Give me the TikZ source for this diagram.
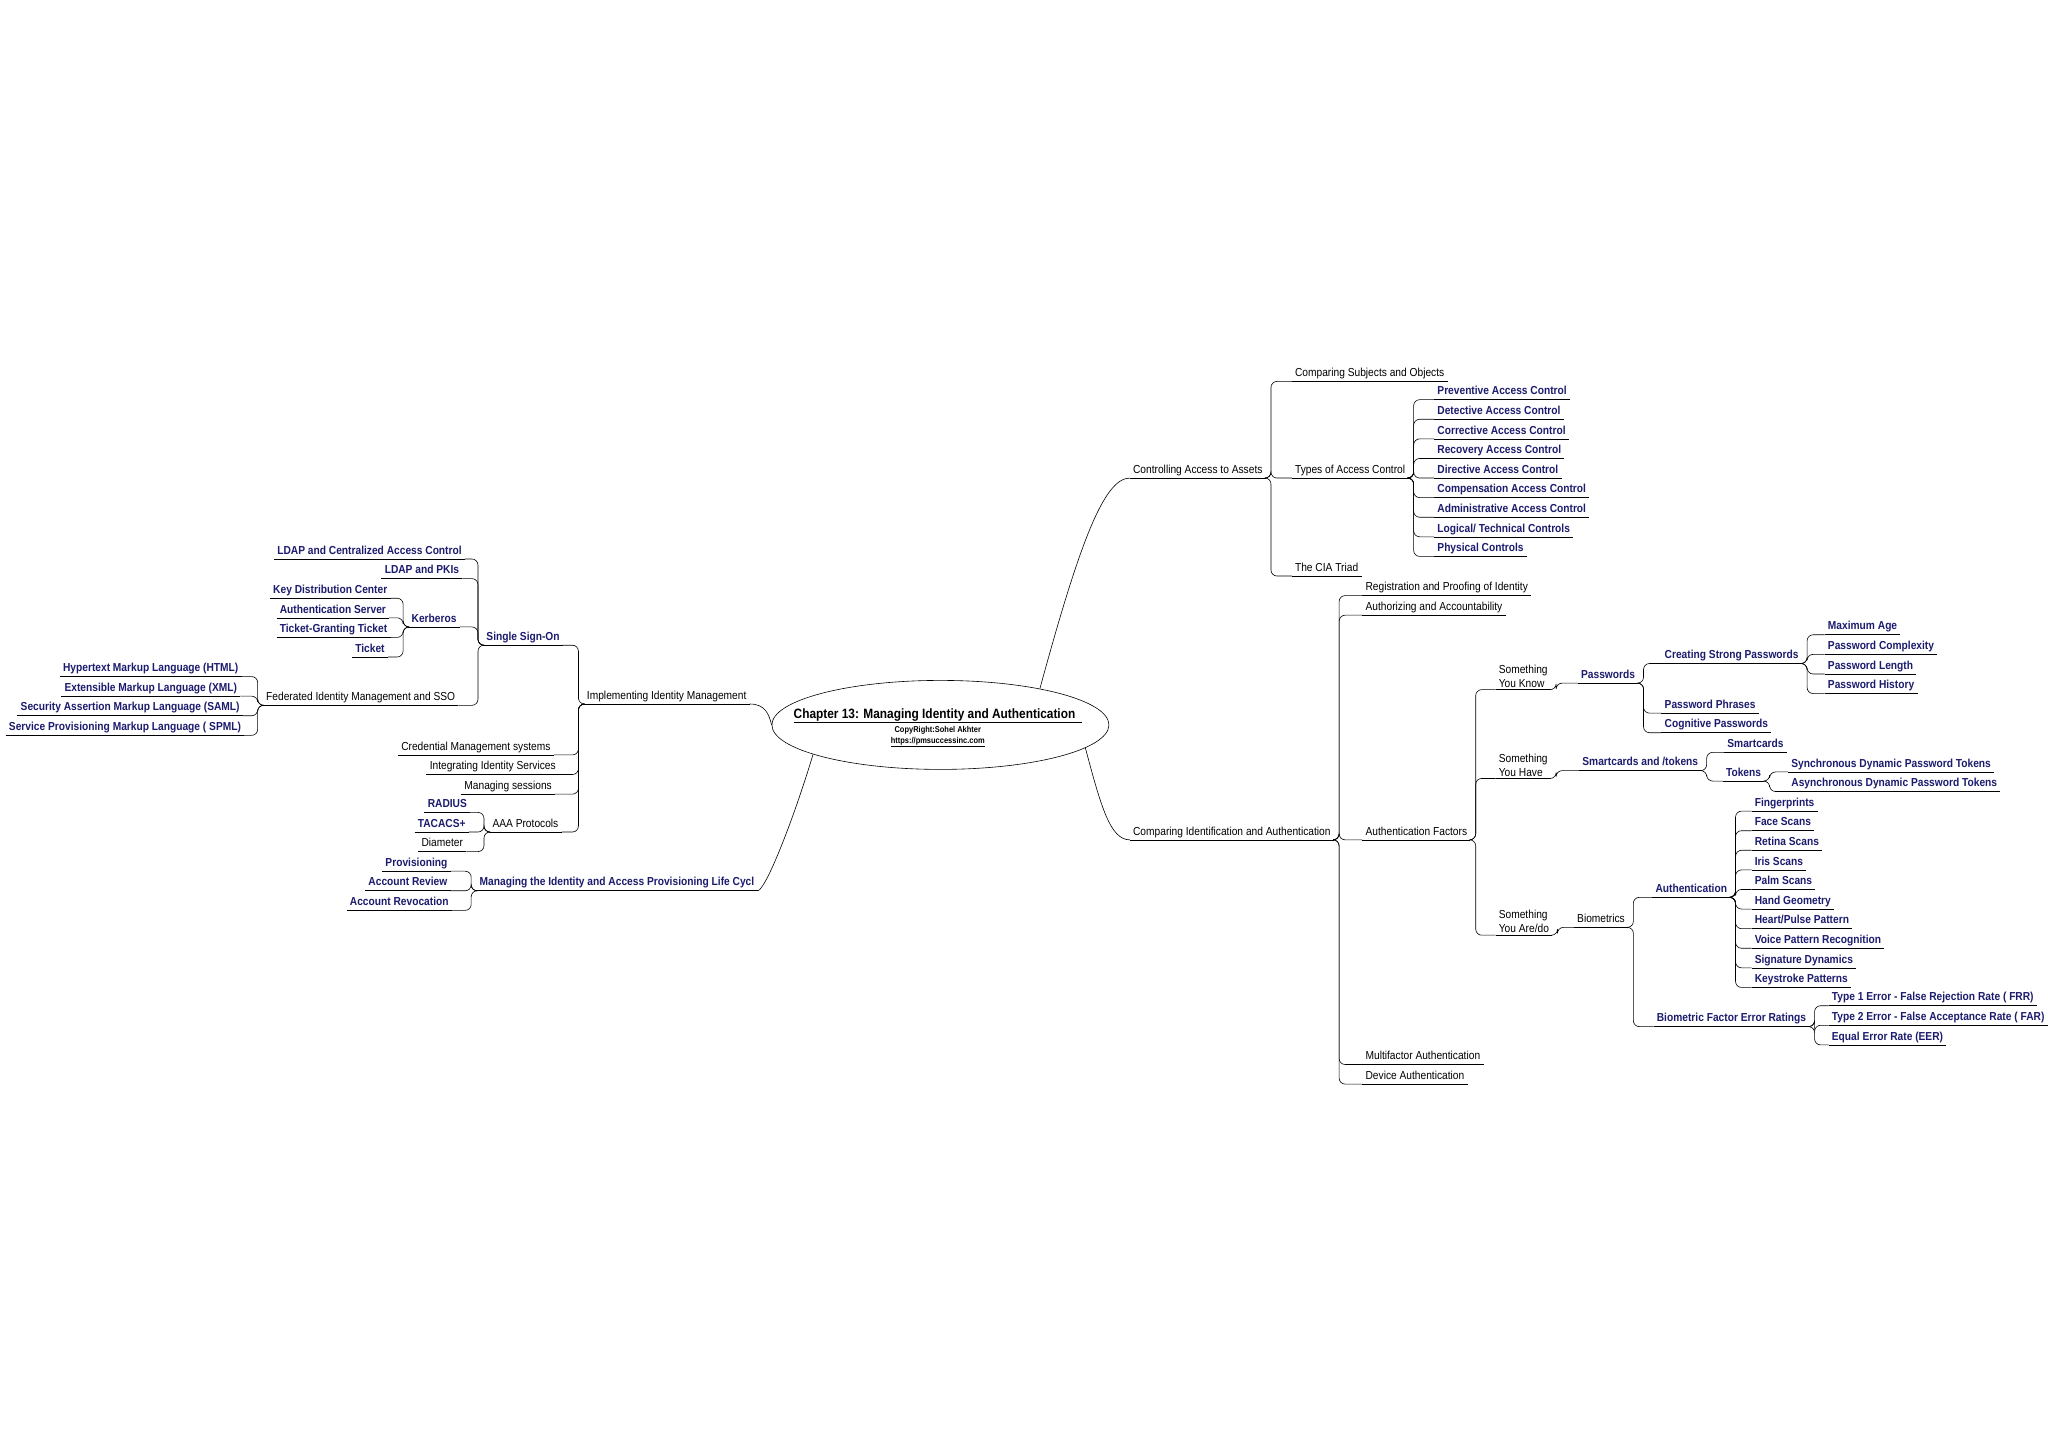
\documentclass[tikz,border=0pt]{standalone}
\usepackage{fontspec}
\setmainfont{Liberation Sans}[FakeStretch=0.88]
\usetikzlibrary{shapes.geometric}
\definecolor{nav}{RGB}{28,28,110}
\newcommand\rl[2]{\draw[rounded corners=6pt] (#1.south east) -- ++(4,0) |- (#2.south west);}
\newcommand\lk[2]{\draw[rounded corners=6pt] (#1.south west) -- ++(-4,0) |- (#2.south east);}
\begin{document}
\begin{tikzpicture}[x=1.3061pt,y=-1.3061pt,line width=0.6pt,
 ul/.style={append after command={(\tikzlastnode.south west) edge[draw=black,line width=0.6pt] (\tikzlastnode.south east)}},
 base/.style={font=\fontsize{11.6}{13}\selectfont, inner xsep=3pt, inner ysep=2pt, text height=8.5pt, text depth=2.5pt, ul},
 R/.style={base, anchor=south west},
 L/.style={base, anchor=south east},
 B/.style={text=nav, font=\fontsize{11.6}{13}\selectfont\bfseries},
 two/.style={align=left, text height=, text depth=, font=\fontsize{11.6}{14}\selectfont}]
\useasboundingbox[fill=white] (0,0) rectangle (1568,1108.6);
% center
\node[ellipse,draw,minimum width=337pt,minimum height=89pt,inner sep=0pt] (C) at (720,555) {};
\node[align=center,inner sep=0pt] (T) at (718,557) {{\fontsize{13.5}{15}\selectfont\bfseries\underline{Chapter 13: Managing Identity and Authentication\ \ }}\\[2pt]
 {\fontsize{8.5}{10}\selectfont\bfseries CopyRight:Sohel Akhter}\\[-1pt]
 {\fontsize{8.5}{10}\selectfont\bfseries\underline{https://pmsuccessinc.com}}};
% ---------- right top
\node[R] (ca) at (865,366) {Controlling Access to Assets};
\node[R] (cso) at (989,292) {Comparing Subjects and Objects};
\node[R] (tac) at (989,366) {Types of Access Control};
\node[R] (cia) at (989,441) {The CIA Triad};
\foreach \n/\t [count=\i] in {a1/{Preventive Access Control},a2/{Detective Access Control},a3/{Corrective Access Control},a4/{Recovery Access Control},a5/{Directive Access Control},a6/{Compensation Access Control},a7/{Administrative Access Control},a8/{Logical/ Technical Controls},a9/{Physical Controls}}
 {\node[R,B] (\n) at (1098,291+15*\i) {\t}; \rl{tac}{\n}}
\draw (C.20) .. controls +(30,-110) and +(-20,0) .. (ca.south west);
\rl{ca}{cso}\rl{ca}{tac}\rl{ca}{cia}
% ---------- right bottom
\node[R] (ci) at (865,643) {Comparing Identification and Authentication};
\draw (C.-9) .. controls +(12,45) and +(-15,0) .. (ci.south west);
\node[R] (reg) at (1043,456) {Registration and Proofing of Identity};
\node[R] (aut) at (1043,471) {Authorizing and Accountability};
\node[R] (af) at (1043,643) {Authentication Factors};
\node[R] (mfa) at (1043,815) {Multifactor Authentication};
\node[R] (dev) at (1043,830) {Device Authentication};
\rl{ci}{reg}\rl{ci}{aut}\rl{ci}{af}\rl{ci}{mfa}\rl{ci}{dev}
\node[R,two] (sk) at (1145,528) {Something\\You Know};
\node[R,two] (sh) at (1145,596) {Something\\You Have};
\node[R,two] (sa) at (1145,716) {Something\\You Are/do};
\rl{af}{sk}\rl{af}{sh}\rl{af}{sa}
\node[R,B] (pw) at (1208,523) {Passwords};
\rl{sk}{pw}
\node[R,B] (csp) at (1272,508) {Creating Strong Passwords};
\node[R,B] (pp) at (1272,546) {Password Phrases};
\node[R,B] (cp) at (1272,561) {Cognitive Passwords};
\rl{pw}{csp}\rl{pw}{pp}\rl{pw}{cp}
\foreach \n/\t [count=\i] in {m1/{Maximum Age},m2/{Password Complexity},m3/{Password Length},m4/{Password History}}
 {\node[R,B] (\n) at (1397,471+15*\i) {\t}; \rl{csp}{\n}}
\node[R,B] (st) at (1209,590) {Smartcards and /tokens};
\rl{sh}{st}
\node[R,B] (sc) at (1320,576) {Smartcards};
\node[R,B] (tk) at (1319,598) {Tokens};
\rl{st}{sc}\rl{st}{tk}
\node[R,B] (sy) at (1369,591) {Synchronous Dynamic Password Tokens};
\node[R,B] (as) at (1369,606) {Asynchronous Dynamic Password Tokens};
\rl{tk}{sy}\rl{tk}{as}
\node[R] (bio) at (1205,710) {Biometrics};
\rl{sa}{bio}
\node[R,B] (au) at (1265,687) {Authentication};
\node[R,B] (bfe) at (1266,786) {Biometric Factor Error Ratings};
\rl{bio}{au}\rl{bio}{bfe}
\foreach \n/\t [count=\i] in {b1/{Fingerprints},b2/{Face Scans},b3/{Retina Scans},b4/{Iris Scans},b5/{Palm Scans},b6/{Hand Geometry},b7/{Heart/Pulse Pattern},b8/{Voice Pattern Recognition},b9/{Signature Dynamics},b10/{Keystroke Patterns}}
 {\node[R,B] (\n) at (1341,606+15*\i) {\t}; \rl{au}{\n}}
\node[R,B] (e1) at (1400,770) {Type 1 Error - False Rejection Rate ( FRR)};
\node[R,B] (e2) at (1400,785) {Type 2 Error - False Acceptance Rate ( FAR)};
\node[R,B] (e3) at (1400,800) {Equal Error Rate (EER)};
\rl{bfe}{e1}\rl{bfe}{e2}\rl{bfe}{e3}
% ---------- left
\node[L] (im) at (574,539) {Implementing Identity Management};
\draw (im.south east) .. controls +(12,0) and +(-2,-8) .. (C.west);
\node[L,B] (lc) at (580,682) {Managing the Identity and Access Provisioning Life Cycl};
\draw (C.193) .. controls +(-15,50) and +(6,0) .. (lc.south east);
\node[L,B] (sso) at (431,494) {Single Sign-On};
\node[L] (cms) at (424,578) {Credential Management systems};
\node[L] (iis) at (428,593) {Integrating Identity Services};
\node[L] (ms) at (425,608) {Managing sessions};
\node[L] (aaa) at (430,637) {AAA Protocols};
\lk{im}{sso}\lk{im}{cms}\lk{im}{iis}\lk{im}{ms}\lk{im}{aaa}
\node[L,B] (ld1) at (356,428) {LDAP and Centralized Access Control};
\node[L,B] (ld2) at (354,443) {LDAP and PKIs};
\node[L,B] (ke) at (352,480) {Kerberos};
\node[L] (fed) at (351,540) {Federated Identity Management and SSO};
\lk{sso}{ld1}\lk{sso}{ld2}\lk{sso}{ke}\lk{sso}{fed}
\node[L,B] (k1) at (299,458) {Key Distribution Center};
\node[L,B] (k2) at (298,473) {Authentication Server};
\node[L,B] (k3) at (299,488) {Ticket-Granting Ticket};
\node[L,B] (k4) at (297,503) {Ticket};
\lk{ke}{k1}\lk{ke}{k2}\lk{ke}{k3}\lk{ke}{k4}
\node[L,B] (f1) at (185,518) {Hypertext Markup Language (HTML)};
\node[L,B] (f2) at (184,533) {Extensible Markup Language (XML)};
\node[L,B] (f3) at (186,548) {Security Assertion Markup Language (SAML)};
\node[L,B] (f4) at (187,563) {Service Provisioning Markup Language ( SPML)};
\lk{fed}{f1}\lk{fed}{f2}\lk{fed}{f3}\lk{fed}{f4}
\node[L,B] (r1) at (360,622) {RADIUS};
\node[L,B] (r2) at (359,637) {TACACS+};
\node[L] (r3) at (357,652) {Diameter};
\lk{aaa}{r1}\lk{aaa}{r2}\lk{aaa}{r3}
\node[L,B] (p1) at (345,667) {Provisioning};
\node[L,B] (p2) at (345,682) {Account Review};
\node[L,B] (p3) at (346,697) {Account Revocation};
\lk{lc}{p1}\lk{lc}{p2}\lk{lc}{p3}
\end{tikzpicture}
\end{document}
